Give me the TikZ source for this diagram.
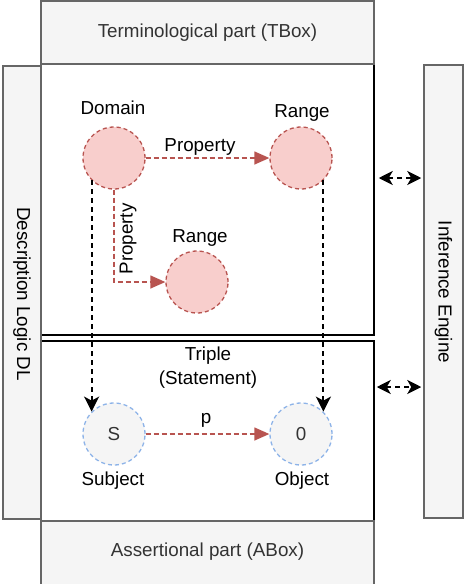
\documentclass[tikz,border=0pt]{standalone}
\usepackage{fontspec}
\setmainfont{Liberation Sans}
\usetikzlibrary{arrows.meta}

\definecolor{redfill}{HTML}{F8CECC}
\definecolor{redline}{HTML}{B85450}
\definecolor{bluefill}{HTML}{F5F5F5}
\definecolor{blueline}{HTML}{8DB3E8}
\definecolor{grayfill}{HTML}{F5F5F5}
\definecolor{grayline}{HTML}{666666}
\definecolor{graytext}{HTML}{333333}

\begin{document}
\begin{tikzpicture}[x=1pt,y=1pt,yscale=-1,xscale=1,
  txt/.style={inner sep=0pt, font=\fontsize{18.8}{22}\selectfont},
  partbox/.style={draw=black, line width=1.5pt, inner sep=0pt},
  graybox/.style={draw=grayline, fill=grayfill, line width=1.5pt, inner sep=0pt, text=graytext, font=\fontsize{18.8}{22}\selectfont},
  redball/.style={circle, draw=redline, fill=redfill, line width=1.3pt, dash pattern=on 4pt off 3pt, minimum size=62pt, inner sep=0pt},
  blueball/.style={circle, draw=blueline, fill=bluefill, line width=1.3pt, dash pattern=on 4pt off 3pt, minimum size=62pt, inner sep=0pt, text=graytext, font=\fontsize{18.8}{22}\selectfont},
  redarrow/.style={draw=redline, line width=1.3pt, dash pattern=on 5pt off 3pt, -{Triangle[length=15pt,width=13pt,fill=redline]}},
  linkarrow/.style={draw=black, line width=2pt, dash pattern=on 5pt off 4pt, -{Stealth[length=15pt,width=15pt,inset=4pt]}},
  biarrow/.style={draw=black, line width=2pt, dash pattern=on 5pt off 4pt, {Stealth[length=14pt,width=14pt,inset=4pt]}-{Stealth[length=14pt,width=14pt,inset=4pt]}}
]
\useasboundingbox (0,0) rectangle (464,584);

% parts
\node[partbox, minimum width=333, minimum height=271] (tbox) at (207.5,199.5) {};
\node[partbox, minimum width=333, minimum height=180] (abox) at (207.5,431) {};
\node[graybox, minimum width=333, minimum height=63] (tboxhead) at (207.5,32.5) {Terminological part (TBox)};
\node[graybox, minimum width=333, minimum height=66] (aboxhead) at (207.5,554) {};
\node[txt, text=graytext] (aboxtext) at (207.5,552) {Assertional part (ABox)};

% side boxes
\node[graybox, minimum width=38, minimum height=453] (dl) at (22,292.5) {};
\node[txt, rotate=-90] (dltext) at (22,294) {Description Logic DL};
\node[graybox, minimum width=39, minimum height=453] (ie) at (443.5,291.5) {};
\node[txt, rotate=-90] (ietext) at (443.5,292) {Inference Engine};

% TBox
\node[redball] (dom) at (114,158) {};
\node[redball] (rng) at (301,158) {};
\node[redball] (rng2) at (197,282) {};
\node[txt] (domlabel) at (113,108) {Domain};
\node[txt] (rnglabel) at (302,113) {Range};
\node[txt] (rng2label) at (200,238) {Range};

\draw[redarrow] (dom) -- (rng);
\node[txt] (proplabel) at (200,147) {Property};
\draw[redarrow] (dom.south) |- (rng2.west);
\node[txt, rotate=90] (prop2label) at (128,239) {Property};

% ABox
\node[txt] (triplelabel) at (208,356) {Triple};
\node[txt] (stmtlabel) at (208,380) {(Statement)};
\node[blueball] (s) at (114,434) {S};
\node[blueball] (o) at (301,434) {0};
\node[txt] (slabel) at (113,481) {Subject};
\node[txt] (olabel) at (302,481) {Object};

\draw[redarrow] (s) -- (o);
\node[txt] (plabel) at (206,420) {p};

% links
\draw[linkarrow] (dom.-135) -- (s.135);
\draw[linkarrow] (rng.-45) -- (o.45);

\coordinate (tlink) at (400,178);
\coordinate (alink) at (400,387);
\draw[biarrow, shorten <=4pt, shorten >=2pt] (tbox.east |- tlink) -- (ie.west |- tlink);
\draw[biarrow, shorten <=2pt, shorten >=2pt] (abox.east |- alink) -- (ie.west |- alink);

\end{tikzpicture}
\end{document}
